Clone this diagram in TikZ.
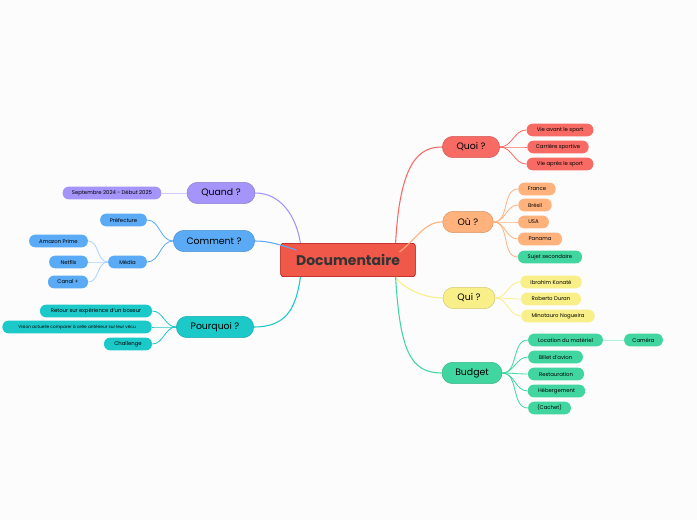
\documentclass[tikz,border=0pt]{standalone}
\usepackage{fontspec}
\setmainfont{Poppins}
\begin{document}
\begin{tikzpicture}[x=0.75pt,y=-0.75pt,
 mainb/.style={draw=#1!85!black, line width=0.4pt, fill=#1, rounded corners=8pt, minimum height=16pt, inner sep=0pt, font=\fontsize{7}{8}\selectfont},
 leaf/.style={fill=#1, rounded corners=4.5pt, minimum height=9.5pt, inner sep=0pt, font=\fontsize{4}{5}\selectfont},
 ln/.style={draw=#1, line width=0.8pt}]
\definecolor{cred}{HTML}{F76B64}
\definecolor{cor}{HTML}{FFB27C}
\definecolor{cye}{HTML}{F8EF88}
\definecolor{cgr}{HTML}{41D6A0}
\definecolor{cpu}{HTML}{A594F9}
\definecolor{cbl}{HTML}{5AAAF5}
\definecolor{cte}{HTML}{1CC9C9}
\definecolor{cdoc}{HTML}{F0584A}
\useasboundingbox (0,0) rectangle (697,520);
\clip (0,0) rectangle (697,520);
\fill[white!98!gray] (0,0) rectangle (697,520);
% center
\node[draw=red!70!black, fill=cdoc, rounded corners=2pt, minimum width=101pt, minimum height=25pt, inner sep=0pt, font=\fontsize{10.5}{12}\bfseries\selectfont, text=black!80] (doc) at (348,260) {Documentaire};
% right mains
\node[mainb=cred, minimum width=43pt] (quoi) at (471,147) {Quoi ?};
\node[mainb=cor, minimum width=38pt] (ou) at (468,222) {Où ?};
\node[mainb=cye, minimum width=39pt] (qui) at (469,298) {Qui ?};
\node[mainb=cgr, minimum width=45pt] (bud) at (472,373) {Budget};
% left mains
\node[mainb=cpu, minimum width=51pt] (quand) at (221,193) {Quand ?};
\node[mainb=cbl, minimum width=61pt] (comm) at (214,241) {Comment ?};
\node[mainb=cte, minimum width=58pt] (pour) at (215,327) {Pourquoi ?};
% main connectors
\draw[ln=cred] (doc.north east) ++(-20,0) coordinate (s1) (s1) .. controls (400,160) and (420,147) .. (quoi.west);
\draw[ln=cor] (doc.east) ++(-16,-8) coordinate (s2) (s2) .. controls (420,235) and (425,222) .. (ou.west);
\draw[ln=cye] (doc.south east) ++(-20,0) coordinate (s3) (s3) .. controls (400,285) and (420,298) .. (qui.west);
\draw[ln=cgr] (doc.south east) ++(-20,0) coordinate (s4) (s4) .. controls (400,350) and (410,373) .. (bud.west);
\draw[ln=cpu] (doc.north west) ++(20,0) coordinate (s5) (s5) .. controls (296,215) and (280,193) .. (quand.east);
\draw[ln=cbl] (doc.west) ++(16,-10) coordinate (s6) (s6) .. controls (280,245) and (270,241) .. (comm.east);
\draw[ln=cte] (doc.south west) ++(20,0) coordinate (s7) (s7) .. controls (296,310) and (285,327) .. (pour.east);
% Quoi leaves
\node[leaf=cred, minimum width=50pt] (q1) at (560,130) {Vie avant le sport};
\node[leaf=cred, minimum width=46pt] (q2) at (558,147) {Carrière sportive};
\node[leaf=cred, minimum width=50pt] (q3) at (560,164) {Vie après le sport};
\foreach \n in {q1,q2,q3} \draw[ln=cred, line width=0.6pt] (quoi.east) to[out=0,in=180] (\n.west);
% Ou leaves
\node[leaf=cor, minimum width=28pt] (o1) at (537,189) {France};
\node[leaf=cor, minimum width=25pt] (o2) at (535,205) {Brésil};
\node[leaf=cor, minimum width=23pt] (o3) at (533.5,222) {USA};
\node[leaf=cor, minimum width=33pt] (o4) at (540,239) {Panama};
\node[leaf=cgr, minimum width=48pt] (o5) at (550,257) {Sujet secondaire};
\foreach \n in {o1,o2,o3,o4,o5} \draw[ln=cor, line width=0.6pt] (ou.east) to[out=0,in=180] (\n.west);
% Qui leaves
\node[leaf=cye, minimum width=46pt] (k1) at (551,282) {Ibrahim Konaté};
\node[leaf=cye, minimum width=45pt] (k2) at (551,299) {Roberto Duran};
\node[leaf=cye, minimum width=55pt] (k3) at (558,316) {Minotauro Nogueira};
\foreach \n in {k1,k2,k3} \draw[ln=cye, line width=0.6pt] (qui.east) to[out=0,in=180] (\n.west);
% Budget leaves
\node[leaf=cgr, minimum width=56pt] (b1) at (565.5,340) {Location du matériel};
\node[leaf=cgr, minimum width=29pt] (b1a) at (643.5,340) {Caméra};
\node[leaf=cgr, minimum width=41pt] (b2) at (555.5,357) {Billet d'avion};
\node[leaf=cgr, minimum width=42pt] (b3) at (556,374) {Restauration};
\node[leaf=cgr, minimum width=43pt] (b4) at (556.5,391) {Hébergement};
\node[leaf=cgr, minimum width=32pt] (b5) at (549.5,408) {(Cachet)};
\foreach \n in {b1,b2,b3,b4,b5} \draw[ln=cgr, line width=0.6pt] (bud.east) to[out=0,in=180] (\n.west);
\draw[ln=cgr!40, line width=0.6pt] (b1.east) -- (b1a.west);
% Quand leaf
\node[leaf=cpu, minimum width=74pt] (w1) at (112,193) {Septembre 2024 - Début 2025};
\draw[ln=cpu!50, line width=0.6pt] (quand.west) -- (w1.east);
% Comment leaves
\node[leaf=cbl, minimum width=35pt] (c1) at (123.5,220) {Préfecture};
\node[leaf=cbl, minimum width=29pt] (c2) at (127.5,262) {Média};
\node[leaf=cbl, minimum width=44pt] (m1) at (58.5,241) {Amazon Prime};
\node[leaf=cbl, minimum width=29pt] (m2) at (68.5,262) {Netflix};
\node[leaf=cbl, minimum width=30pt] (m3) at (68,282) {Canal +};
\foreach \n in {c1,c2} \draw[ln=cbl, line width=0.6pt] (comm.west) to[out=180,in=0] (\n.east);
\foreach \n in {m1,m2,m3} \draw[ln=cbl!50, line width=0.6pt] (c2.west) to[out=180,in=0] (\n.east);
% Pourquoi leaves
\node[leaf=cte, minimum width=84pt] (p1) at (96,311) {Retour sur expérience d'un boxeur};
\node[leaf=cte, minimum width=112pt, anchor=east, font=\fontsize{3.2}{4}\selectfont] (p2) at (152,327) {Vision actuelle comparer à celle antérieur sur leur vécu};
\node[leaf=cte, minimum width=36pt] (p3) at (128,344) {Challenge};
\foreach \n in {p1,p2,p3} \draw[ln=cte, line width=0.6pt] (pour.west) to[out=180,in=0] (\n.east);
\end{tikzpicture}
\end{document}
